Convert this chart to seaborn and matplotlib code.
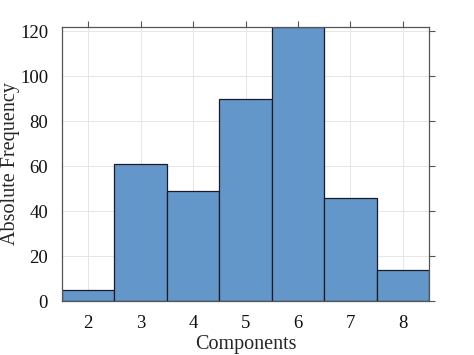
import numpy as np
import seaborn as sns
import matplotlib
matplotlib.use("Agg")
import matplotlib.pyplot as plt

# component counts
components = [2, 3, 4, 5, 6, 7, 8]
counts = [5, 61, 49, 90, 122, 46, 14]


def main():
    sns.set_style("white")
    plt.rcParams['font.family'] = ['Liberation Serif', 'DejaVu Serif']

    fig = plt.figure(figsize=(4.74, 3.55), dpi=100)
    ax = fig.add_axes([62 / 474, 1 - 301 / 355, 367 / 474, 274 / 355])

    sns.histplot(x=components, weights=counts, discrete=True, ax=ax,
                 color="#6497C9", alpha=1.0, edgecolor="#1a1a2a", linewidth=0.9)

    ax.set_xlim(1.5, 8.5)
    ax.set_ylim(0, 122)
    ax.set_xticks(components)
    ax.yaxis.set_major_locator(plt.MultipleLocator(20))

    ax.set_axisbelow(True)
    ax.grid(True, color="#e6e6e6", linewidth=0.7)

    for s in ax.spines.values():
        s.set_visible(True)
        s.set_color("#555555")
        s.set_linewidth(0.9)

    ax.tick_params(direction="out", length=4, width=0.8, color="#555555",
                   labelsize=13.5, labelcolor="#111111", top=True, right=True,
                   labeltop=False, labelright=False, pad=6)

    ax.set_xlabel("Components", fontsize=14.5, labelpad=2)
    ax.set_ylabel("Absolute Frequency", fontsize=14.5, labelpad=0)

    fig.savefig("out.png", dpi=100)


if __name__ == '__main__':
    main()
